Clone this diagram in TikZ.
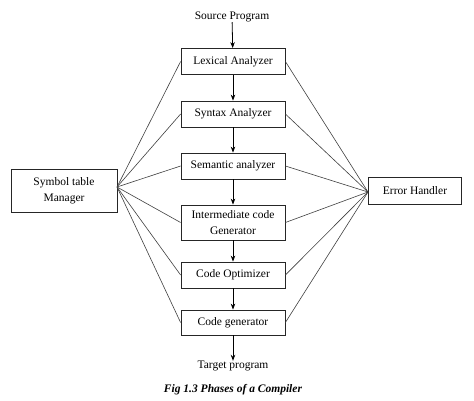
\documentclass[tikz,border=0pt]{standalone}
\usepackage{fontspec}
\setmainfont{Liberation Serif}
\usetikzlibrary{arrows.meta}
\begin{document}
\begin{tikzpicture}[x=1pt,y=-1pt,
  phase/.style={draw=black!85,line width=0.8pt,minimum width=104pt,minimum height=26pt,inner sep=1pt,align=center,font=\fontsize{11.5}{15.5}\selectfont},
  plain/.style={font=\fontsize{11.5}{15.5}\selectfont,inner sep=0pt},
  flow/.style={line width=0.8pt,-{Stealth[length=6pt,width=4.5pt]}},
  link/.style={line width=0.6pt,draw=black!75}]
\useasboundingbox[fill=white] (0,0) rectangle (474,400);
\node[plain] (src) at (232,17) {Source Program};
\node[phase] (lex) at (233,61.5) {Lexical Analyzer};
\node[phase] (syn) at (233,114) {Syntax Analyzer};
\node[phase] (sem) at (233,166) {Semantic analyzer};
\node[phase,minimum height=35pt] (inter) at (233,222.5) {Intermediate code\\Generator};
\node[phase] (opt) at (233,275) {Code Optimizer};
\node[phase,minimum height=25pt] (gen) at (233,322.5) {Code generator};
\node[plain] (tgt) at (233,366) {Target program};
\node[phase,minimum width=106pt,minimum height=43pt] (sym) at (64,190.5) {Symbol table\\Manager};
\node[phase,minimum width=93pt,minimum height=27pt] (err) at (415,191) {Error Handler};
\node[plain,font=\fontsize{11.5}{14}\selectfont\bfseries\itshape] (cap) at (233,390) {Fig 1.3 Phases of a Compiler};
\coordinate (sp) at (117,187);
\coordinate (ep) at (368,192);
\draw[flow] (src) -- (lex);
\draw[flow] (lex) -- (syn);
\draw[flow] (syn) -- (sem);
\draw[flow] (sem) -- (inter);
\draw[flow] (inter) -- (opt);
\draw[flow] (opt) -- (gen);
\draw[flow] (gen) -- (tgt.north);
\foreach \n in {lex,syn,sem,inter,opt,gen}{
  \draw[link] (sp) -- (\n.west);
  \draw[link] (ep) -- (\n.east);
}
\end{tikzpicture}
\end{document}
